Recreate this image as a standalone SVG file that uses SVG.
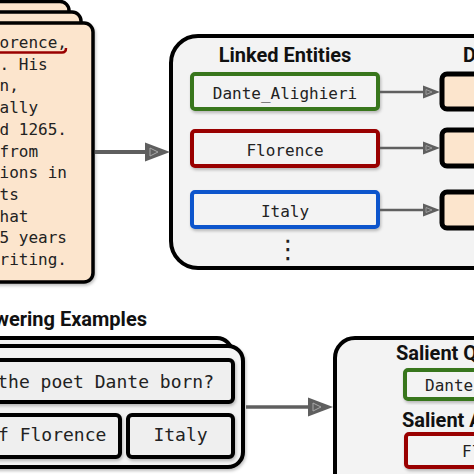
<svg xmlns="http://www.w3.org/2000/svg" width="474" height="474" viewBox="0 0 474 474">
<defs>
<style>
.mono{font-family:"DejaVu Sans Mono","Liberation Mono",monospace;fill:#222}
.head{font-family:Roboto,"Liberation Sans",sans-serif;font-weight:bold;font-size:20px;fill:#111}
.page{fill:#fce5cd;stroke:#000;stroke-width:3.5}
.panel{fill:#f3f3f3;stroke:#000;stroke-width:4}
.ent{fill:#f3f3f3;stroke-width:4}
.desc{fill:#fce5cd;stroke:#000;stroke-width:5}
.qa{fill:#efefef;stroke:#000;stroke-width:4}
.conn{stroke:#5f5f5f;fill:none}
</style>
<filter id="sh" x="-10%" y="-10%" width="130%" height="130%">
<feDropShadow dx="1" dy="2" stdDeviation="1.5" flood-color="#000" flood-opacity="0.25"/>
</filter>
<marker id="ahBig" markerUnits="userSpaceOnUse" markerWidth="26" markerHeight="20" refX="5" refY="10" orient="auto" viewBox="0 0 26 20">
<path d="M0,0.5 L25,10 L0,19.5 Z" fill="#5f5f5f"/>
<path d="M5,6 L13,10 L5,14 Z" fill="none" stroke="#a8a8a8" stroke-width="1"/>
</marker>
<marker id="ahSmall" markerUnits="userSpaceOnUse" markerWidth="18" markerHeight="14" refX="4" refY="7" orient="auto" viewBox="0 0 18 14">
<path d="M0,0.5 L17,7 L0,13.5 Z" fill="#5f5f5f"/>
<path d="M3,4.5 L9,7 L3,9.5 Z" fill="none" stroke="#a8a8a8" stroke-width="0.8"/>
</marker>
</defs>

<g id="document">
<rect class="page" x="-40" y="1.5" width="109" height="258" rx="9"/>
<rect class="page" x="-30" y="12" width="111" height="259" rx="9"/>
<rect class="page" x="-20" y="23" width="113" height="259" rx="9" filter="url(#sh)"/>
<g class="mono" font-size="16">
<text x="-0.5" y="48">orence,</text>
<text x="-0.5" y="69.7">. His</text>
<text x="-0.5" y="91.4">n,</text>
<text x="-0.5" y="113.1">ally</text>
<text x="-0.5" y="134.8">d 1265.</text>
<text x="-0.5" y="156.5">from</text>
<text x="-0.5" y="178.2">ions in</text>
<text x="-0.5" y="199.9">ts</text>
<text x="-0.5" y="221.6">hat</text>
<text x="-0.5" y="243.3">5 years</text>
<text x="-0.5" y="265">riting.</text>
</g>
<path d="M-2,52.5 L62,52.5 Q66,52.5 66,48" fill="none" stroke="#990000" stroke-width="2.5"/>
</g>

<g id="linked-entities">
<rect class="panel" x="171" y="36" width="330" height="232" rx="27"/>
<text class="head" x="285" y="62" text-anchor="middle">Linked Entities</text>
<text class="head" x="463" y="62">D</text>
<text x="288" y="258" font-family="DejaVu Sans,sans-serif" font-size="26" text-anchor="middle" fill="#222">⋮</text>
</g>

<g id="entity-dante">
<rect class="ent" x="192" y="74" width="186" height="35" rx="3" stroke="#38761d" filter="url(#sh)"/>
<text class="mono" x="285" y="98.5" font-size="16" text-anchor="middle">Dante_Alighieri</text>
</g>
<g id="entity-florence">
<rect class="ent" x="192" y="131" width="186" height="35" rx="3" stroke="#990000" filter="url(#sh)"/>
<text class="mono" x="285" y="155.5" font-size="16" text-anchor="middle">Florence</text>
</g>
<g id="entity-italy">
<rect class="ent" x="192" y="192" width="186" height="35" rx="3" stroke="#1155cc" filter="url(#sh)"/>
<text class="mono" x="285" y="216.5" font-size="16" text-anchor="middle">Italy</text>
</g>

<g id="desc-1"><rect class="desc" x="442" y="74" width="60" height="35" rx="5"/></g>
<g id="desc-2"><rect class="desc" x="442" y="130" width="60" height="36" rx="5"/></g>
<g id="desc-3"><rect class="desc" x="442" y="192" width="60" height="36" rx="5"/></g>

<g id="qa-examples">
<text class="head" x="147" y="326" text-anchor="end">wering Examples</text>
<rect class="panel" x="-40" y="338" width="272" height="120" rx="15"/>
<rect class="panel" x="-30" y="346" width="273" height="121" rx="15" filter="url(#sh)"/>
</g>
<g id="question">
<rect class="qa" x="-20" y="360" width="253" height="42" rx="4" filter="url(#sh)"/>
<text class="mono" x="214" y="388" font-size="18" text-anchor="end">the poet Dante born?</text>
</g>
<g id="answer-florence">
<rect class="qa" x="-20" y="415" width="140" height="42" rx="4" filter="url(#sh)"/>
<text class="mono" x="-2" y="441" font-size="18">f Florence</text>
</g>
<g id="answer-italy">
<rect class="qa" x="128" y="415" width="105" height="42" rx="4" filter="url(#sh)"/>
<text class="mono" x="180.5" y="441" font-size="18" text-anchor="middle">Italy</text>
</g>

<g id="salient">
<rect class="panel" x="335" y="338" width="170" height="160" rx="20"/>
<text class="head" x="396" y="360">Salient Q</text>
<text class="head" x="402" y="427">Salient A</text>
</g>
<g id="salient-q-dante">
<rect class="ent" x="405" y="370" width="100" height="29" rx="3" stroke="#38761d" filter="url(#sh)"/>
<text class="mono" x="425" y="391" font-size="16">Dante</text>
</g>
<g id="salient-a-florence">
<rect class="ent" x="406" y="434" width="100" height="33" rx="3" stroke="#990000" filter="url(#sh)"/>
<text class="mono" x="462" y="457" font-size="16">Fl</text>
</g>

<g id="connectors">
<path class="conn" d="M95,152 H150" stroke-width="4" marker-end="url(#ahBig)"/>
<path class="conn" d="M380,92 H427" stroke-width="2.5" marker-end="url(#ahSmall)"/>
<path class="conn" d="M380,148 H427" stroke-width="2.5" marker-end="url(#ahSmall)"/>
<path class="conn" d="M380,210 H427" stroke-width="2.5" marker-end="url(#ahSmall)"/>
<path class="conn" d="M246,407 H313" stroke-width="3.5" marker-end="url(#ahBig)"/>
</g>
</svg>
